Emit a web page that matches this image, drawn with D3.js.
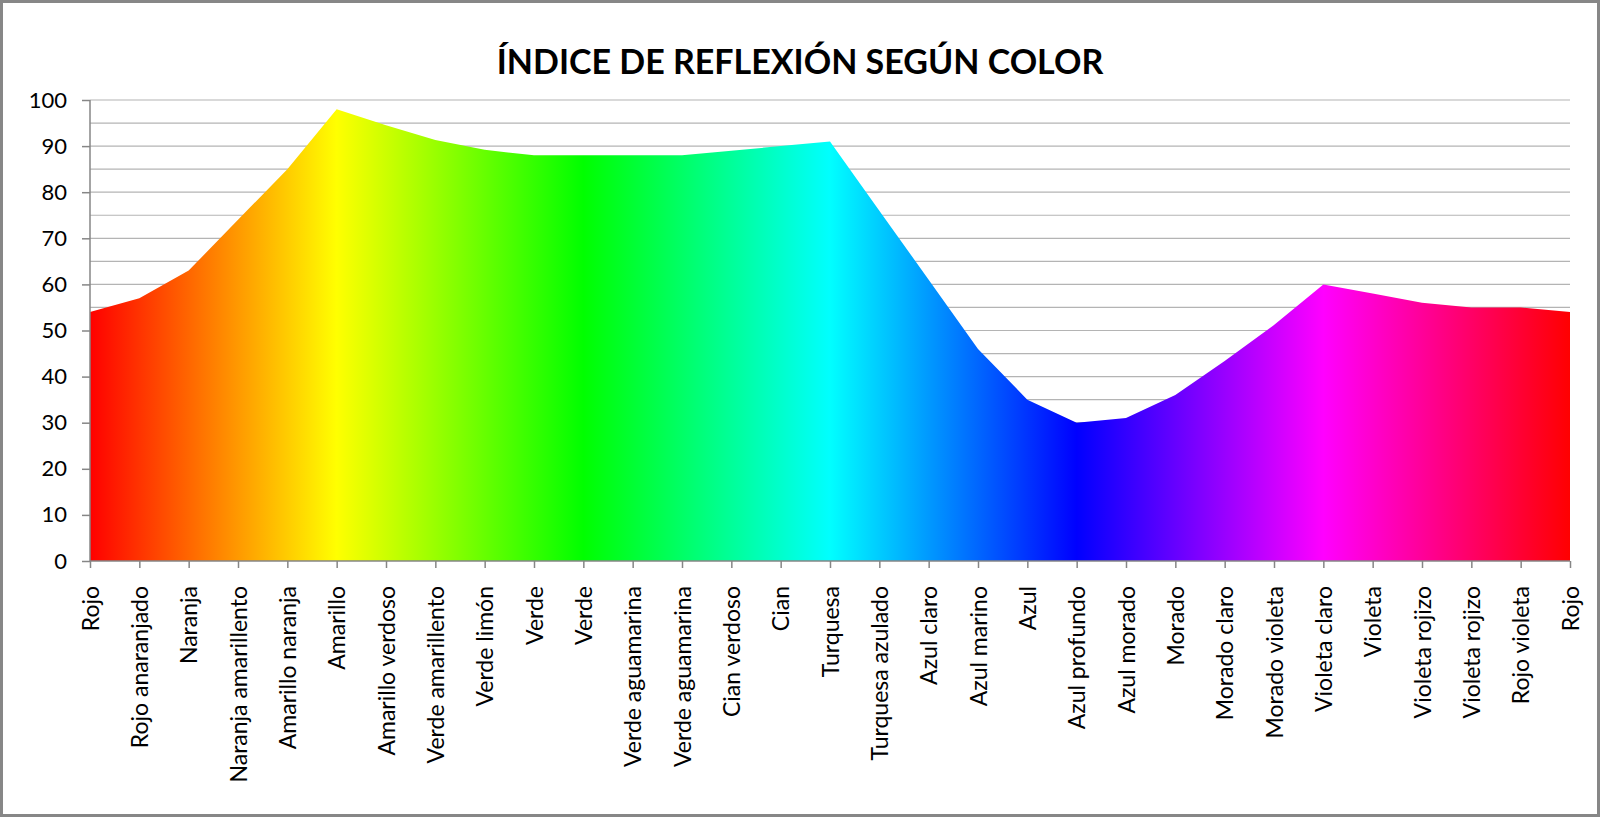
<!DOCTYPE html>
<html>
<head>
  <meta charset="utf-8">
  <script src="https://cdn.jsdelivr.net/npm/d3@7"></script>
  <style>
    html, body {
        margin: 0px;
        padding: 0px;
        background: #fff;
    }
    text {
        font-family: Lato, "Open Sans", sans-serif;
        fill: #000;
    }
  </style>
  <title>Índice de reflexión según color</title>
</head>
<body>
<div id="chart"></div>
<script>
    // data
    var categories = ["Rojo", "Rojo anaranjado", "Naranja", "Naranja amarillento", "Amarillo naranja",
        "Amarillo", "Amarillo verdoso", "Verde amarillento", "Verde limón", "Verde", "Verde",
        "Verde aguamarina", "Verde aguamarina", "Cian verdoso", "Cian", "Turquesa", "Turquesa azulado",
        "Azul claro", "Azul marino", "Azul", "Azul profundo", "Azul morado", "Morado", "Morado claro",
        "Morado violeta", "Violeta claro", "Violeta", "Violeta rojizo", "Violeta rojizo", "Rojo violeta", "Rojo"];
    var values = [54, 57, 63, 74, 85, 98, 94.5, 91.3, 89.2, 88, 88, 88, 88, 89, 90, 91, 76,
        61, 46, 35, 30, 31, 36, 43.4, 51.2, 60, 58, 56, 55, 55, 54];
    var yLabelTicks = [0, 10, 20, 30, 40, 50, 60, 70, 80, 90, 100];
    var yGridTicks = d3.range(0, 101, 5);
    // hue wheel used for the fill, left to right
    var hueStops = ["#ff0000", "#ffff00", "#00ff00", "#00ffff", "#0000ff", "#ff00ff", "#ff0000"];

    var width = 1600, height = 817;
    var margin = {left: 90, right: 30, top: 100, bottom: 256};

    var svg = d3.select("#chart").append("svg")
        .attr("width", width)
        .attr("height", height);

    // outer frame
    svg.append("rect")
        .attr("x", 1.5).attr("y", 1.5)
        .attr("width", width - 3).attr("height", height - 3)
        .style("fill", "#fff")
        .style("stroke", "#878787")
        .style("stroke-width", 3);

    svg.append("text")
        .text("ÍNDICE DE REFLEXIÓN SEGÚN COLOR")
        .attr("x", 800)
        .attr("y", 74)
        .attr("text-anchor", "middle")
        .style("font-weight", "bold")
        .style("font-size", "34px");

    var x = d3.scalePoint()
        .domain(d3.range(categories.length))
        .range([margin.left, width - margin.right]);

    var y = d3.scaleLinear()
        .domain([0, 100])
        .range([height - margin.bottom, margin.top]);

    // gridlines every 5
    svg.append("g").selectAll("line")
        .data(yGridTicks.filter(function(d) { return d > 0; }))
        .enter().append("line")
        .attr("x1", margin.left).attr("x2", width - margin.right)
        .attr("y1", function(d) { return y(d); })
        .attr("y2", function(d) { return y(d); })
        .style("stroke", "#b4b4b4")
        .style("stroke-width", 1.2);

    var grad = svg.append("defs").append("linearGradient")
        .attr("id", "hue")
        .attr("gradientUnits", "userSpaceOnUse")
        .attr("x1", x(0)).attr("x2", x(categories.length - 1))
        .attr("y1", 0).attr("y2", 0);
    grad.selectAll("stop")
        .data(hueStops)
        .enter().append("stop")
        .attr("offset", function(d, i) { return i / (hueStops.length - 1); })
        .attr("stop-color", function(d) { return d; });

    var area = d3.area()
        .x(function(d, i) { return x(i); })
        .y0(y(0))
        .y1(function(d) { return y(d); });

    svg.append("path")
        .datum(values)
        .attr("d", area)
        .style("fill", "url(#hue)");

    // y axis
    var yAxis = svg.append("g")
        .attr("transform", "translate(" + margin.left + ",0)")
        .call(d3.axisLeft(y).tickValues(yLabelTicks).tickSize(8).tickPadding(15));
    yAxis.selectAll("text").style("font-size", "22px");
    yAxis.select(".domain").attr("d", "M0," + y(100) + "V" + y(0));

    // x axis
    var xAxis = svg.append("g")
        .attr("transform", "translate(0," + y(0) + ")")
        .call(d3.axisBottom(x).tickSize(7).tickFormat(function(i) { return categories[i]; }));
    xAxis.selectAll("text")
        .attr("transform", "rotate(-90)")
        .attr("text-anchor", "end")
        .attr("x", -25)
        .attr("y", 0)
        .attr("dy", "0.35em")
        .style("font-size", "23px");
    xAxis.select(".domain").attr("d", "M" + margin.left + ",0H" + (width - margin.right));

    svg.selectAll(".domain, .tick line")
        .style("stroke", "#868686")
        .style("stroke-width", 1.5);
    svg.selectAll(".tick text").style("fill", "#000");
</script>
</body>
</html>
